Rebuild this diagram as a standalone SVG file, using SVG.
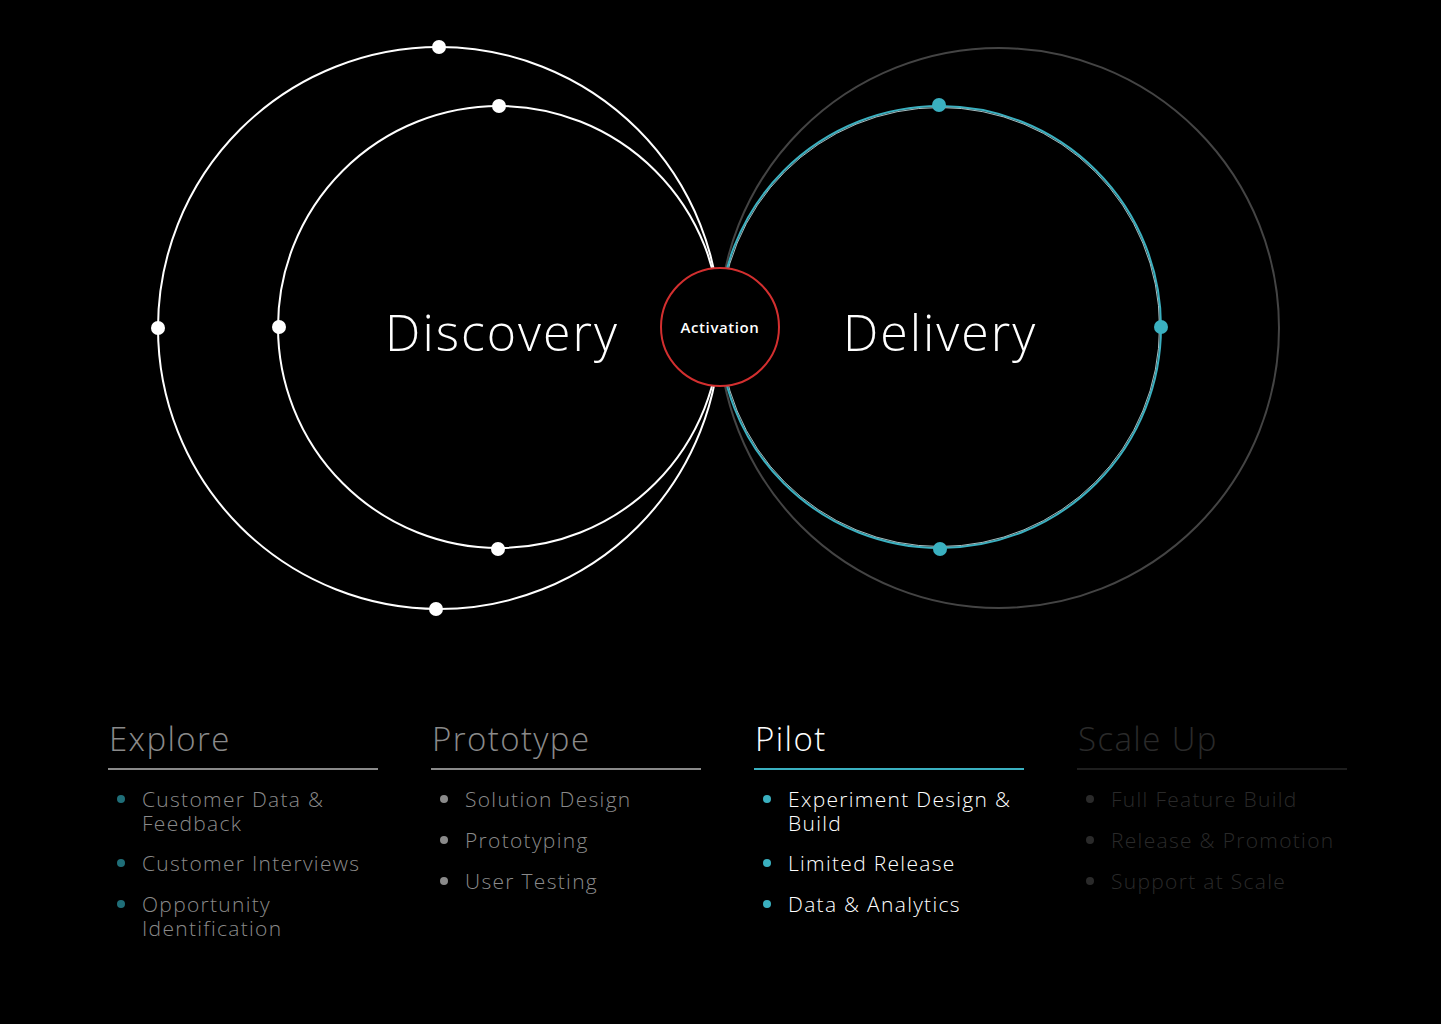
<svg xmlns="http://www.w3.org/2000/svg" width="1441" height="1024" viewBox="0 0 1441 1024">
<style>
.c{fill:none;stroke-width:2}
.d{fill:#fff}
.t{font-family:"Open Sans","DejaVu Sans",sans-serif;font-weight:300}
.h{font-size:33px;letter-spacing:1.4px}
.i{font-size:21px;letter-spacing:1.3px}
</style>
<rect width="1441" height="1024" fill="#000"/>
<g id="connectors">
<circle class="c" cx="439" cy="328" r="281" stroke="#fff"/>
<circle class="c" cx="499" cy="327" r="221" stroke="#fff"/>
<circle class="c" cx="999" cy="328" r="280" stroke="#444"/>
<circle class="c" cx="940" cy="327" r="221" stroke="#3ab0c0"/>
<circle fill="none" stroke="#cfeff3" stroke-width="0.8" cx="940" cy="327" r="219.5"/>
</g>
<g id="dots">
<circle class="d" cx="439" cy="47" r="7"/>
<circle class="d" cx="158" cy="328" r="7"/>
<circle class="d" cx="436" cy="609" r="7"/>
<circle class="d" cx="499" cy="106" r="7"/>
<circle class="d" cx="279" cy="327" r="7"/>
<circle class="d" cx="498" cy="549" r="7"/>
<circle fill="#3ab0c0" cx="939" cy="105" r="7"/>
<circle fill="#3ab0c0" cx="1161" cy="327" r="7"/>
<circle fill="#3ab0c0" cx="940" cy="549" r="7"/>
</g>
<g id="discovery"><text class="t" x="502" y="351" font-size="50" font-weight="400" letter-spacing="2" fill="#fff" text-anchor="middle">Discovery</text></g>
<g id="delivery"><text class="t" x="940" y="351" font-size="50" font-weight="400" letter-spacing="2" fill="#fff" text-anchor="middle">Delivery</text></g>
<g id="activation">
<circle cx="720" cy="327" r="59" fill="#000" stroke="#d32f2f" stroke-width="2"/>
<text x="720" y="333" font-family="'Open Sans',sans-serif" font-weight="600" font-size="15" letter-spacing="0.6" fill="#fff" text-anchor="middle">Activation</text>
</g>
<g id="explore" fill="#8a8a8a">
<text class="t h" x="109" y="751">Explore</text>
<rect x="108" y="768" width="270" height="2"/>
<g fill="#1f6e78"><circle cx="121" cy="799" r="4"/><circle cx="121" cy="863" r="4"/><circle cx="121" cy="904" r="4"/></g>
<text class="t i" x="142" y="807">Customer Data &amp;</text>
<text class="t i" x="142" y="831">Feedback</text>
<text class="t i" x="142" y="871">Customer Interviews</text>
<text class="t i" x="142" y="912">Opportunity</text>
<text class="t i" x="142" y="936">Identification</text>
</g>
<g id="prototype" fill="#8a8a8a">
<text class="t h" x="432" y="751">Prototype</text>
<rect x="431" y="768" width="270" height="2"/>
<circle cx="444" cy="799" r="4"/><circle cx="444" cy="840" r="4"/><circle cx="444" cy="881" r="4"/>
<text class="t i" x="465" y="807">Solution Design</text>
<text class="t i" x="465" y="848">Prototyping</text>
<text class="t i" x="465" y="889">User Testing</text>
</g>
<g id="pilot" fill="#fff">
<text class="t h" x="755" y="751">Pilot</text>
<rect x="754" y="768" width="270" height="2" fill="#3ab0c0"/>
<g fill="#3ab0c0"><circle cx="767" cy="799" r="4"/><circle cx="767" cy="863" r="4"/><circle cx="767" cy="904" r="4"/></g>
<text class="t i" x="788" y="807">Experiment Design &amp;</text>
<text class="t i" x="788" y="831">Build</text>
<text class="t i" x="788" y="871">Limited Release</text>
<text class="t i" x="788" y="912">Data &amp; Analytics</text>
</g>
<g id="scaleup" fill="#2a2a2a">
<text class="t h" x="1078" y="751">Scale Up</text>
<rect x="1077" y="768" width="270" height="2" fill="#1e1e1e"/>
<circle cx="1090" cy="799" r="4"/><circle cx="1090" cy="840" r="4"/><circle cx="1090" cy="881" r="4"/>
<text class="t i" x="1111" y="807">Full Feature Build</text>
<text class="t i" x="1111" y="848">Release &amp; Promotion</text>
<text class="t i" x="1111" y="889">Support at Scale</text>
</g>
</svg>
